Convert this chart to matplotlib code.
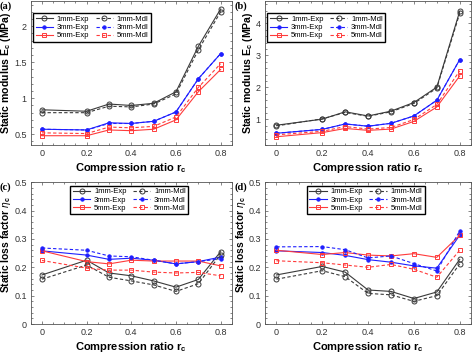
import numpy as np
import matplotlib
matplotlib.use("Agg")
import matplotlib.pyplot as plt
from matplotlib.ticker import AutoMinorLocator, MultipleLocator

plt.rcParams["font.family"] = ["Liberation Sans", "DejaVu Sans"]
plt.rcParams["mathtext.fontset"] = "custom"
plt.rcParams["mathtext.rm"] = "Liberation Sans"
plt.rcParams["mathtext.it"] = "Liberation Sans:italic"
plt.rcParams["mathtext.bf"] = "Liberation Sans:bold"
plt.rcParams["lines.dashed_pattern"] = [3.0, 2.0]

# ── data ──────────────────────────────────────────────────────────────────────
x = [0, 0.2, 0.3, 0.4, 0.5, 0.6, 0.7, 0.8]

# (a) static modulus
a_1exp = [0.84, 0.82, 0.92, 0.90, 0.93, 1.09, 1.72, 2.24]
a_1mdl = [0.80, 0.80, 0.89, 0.88, 0.92, 1.06, 1.67, 2.20]
a_3exp = [0.57, 0.56, 0.66, 0.65, 0.68, 0.81, 1.27, 1.62]
a_3mdl = [0.57, 0.56, 0.65, 0.65, 0.68, 0.81, 1.27, 1.62]
a_5exp = [0.48, 0.48, 0.56, 0.55, 0.57, 0.70, 1.09, 1.40]
a_5mdl = [0.52, 0.51, 0.60, 0.59, 0.61, 0.74, 1.15, 1.48]

# (b) static modulus
b_1exp = [0.82, 1.01, 1.24, 1.11, 1.26, 1.53, 2.01, 4.38]
b_1mdl = [0.80, 1.02, 1.22, 1.10, 1.24, 1.50, 1.98, 4.32]
b_3exp = [0.57, 0.69, 0.86, 0.79, 0.88, 1.11, 1.60, 2.87]
b_3mdl = [0.57, 0.69, 0.86, 0.79, 0.88, 1.11, 1.60, 2.87]
b_5exp = [0.46, 0.59, 0.72, 0.66, 0.70, 0.94, 1.39, 2.36]
b_5mdl = [0.52, 0.63, 0.78, 0.70, 0.75, 1.00, 1.47, 2.52]

# (c) static loss factor
c_1exp = [0.173, 0.225, 0.180, 0.170, 0.152, 0.130, 0.157, 0.255]
c_1mdl = [0.158, 0.208, 0.165, 0.152, 0.138, 0.115, 0.142, 0.245]
c_3exp = [0.258, 0.243, 0.228, 0.232, 0.225, 0.212, 0.220, 0.236]
c_3mdl = [0.268, 0.260, 0.240, 0.237, 0.225, 0.212, 0.220, 0.230]
c_5exp = [0.258, 0.220, 0.212, 0.225, 0.222, 0.222, 0.222, 0.205]
c_5mdl = [0.224, 0.197, 0.190, 0.190, 0.183, 0.180, 0.182, 0.170]

# (d) static loss factor
d_1exp = [0.173, 0.203, 0.183, 0.120, 0.115, 0.090, 0.113, 0.228]
d_1mdl = [0.158, 0.188, 0.167, 0.108, 0.103, 0.080, 0.100, 0.212]
d_3exp = [0.258, 0.252, 0.242, 0.227, 0.218, 0.205, 0.197, 0.313]
d_3mdl = [0.272, 0.273, 0.262, 0.233, 0.240, 0.213, 0.187, 0.328]
d_5exp = [0.260, 0.245, 0.252, 0.243, 0.240, 0.248, 0.235, 0.313]
d_5mdl = [0.223, 0.216, 0.208, 0.200, 0.210, 0.193, 0.165, 0.260]

panels = [
    ("(a)", [a_1exp, a_3exp, a_5exp, a_1mdl, a_3mdl, a_5mdl], (0.35, 2.35), 0.5,
     r"Static modulus E$_\mathbf{c}$ (MPa)", "upper left", (0.012, 0.915)),
    ("(b)", [b_1exp, b_3exp, b_5exp, b_1mdl, b_3mdl, b_5mdl], (0.2, 4.7), 1,
     r"Static modulus E$_\mathbf{c}$ (MPa)", "upper left", (0.012, 0.915)),
    ("(c)", [c_1exp, c_3exp, c_5exp, c_1mdl, c_3mdl, c_5mdl], (0, 0.5), 0.1,
     r"Static loss factor $\eta_\mathbf{c}$", "upper center", (0.49, 0.975)),
    ("(d)", [d_1exp, d_3exp, d_5exp, d_1mdl, d_3mdl, d_5mdl], (0, 0.5), 0.1,
     r"Static loss factor $\eta_\mathbf{c}$", "upper center", (0.49, 0.975)),
]

labels = ["1mm-Exp", "3mm-Exp", "5mm-Exp", "1mm-Mdl", "3mm-Mdl", "5mm-Mdl"]
styles = [
    dict(color="#3a3a3a", marker="o", mfc="none", ms=3.6, ls="-"),
    dict(color="#1f1fff", marker="o", mfc="#1f1fff", ms=2.4, ls="-"),
    dict(color="#ff3b3b", marker="s", mfc="none", ms=3.2, ls="-"),
    dict(color="#3a3a3a", marker="o", mfc="none", ms=3.6, ls="--"),
    dict(color="#1f1fff", marker="o", mfc="#1f1fff", ms=2.4, ls="--"),
    dict(color="#ff3b3b", marker="s", mfc="none", ms=3.2, ls="--"),
]

boxes = [
    [0.065, 0.589, 0.424, 0.408],
    [0.559, 0.589, 0.435, 0.408],
    [0.065, 0.082, 0.424, 0.402],
    [0.559, 0.082, 0.435, 0.402],
]

fig = plt.figure(figsize=(4.74, 3.53), dpi=100)

for (tag, series, ylim, ystep, ylabel, loc, anchor), box in zip(panels, boxes):
    ax = fig.add_axes(box)
    for y, lab, st in zip(series, labels, styles):
        ax.plot(x, y, lw=0.8, mew=0.7, label=lab, **st)
    ax.set_xlim(-0.05, 0.85)
    ax.set_ylim(*ylim)
    ax.xaxis.set_major_locator(MultipleLocator(0.2))
    ax.yaxis.set_major_locator(MultipleLocator(ystep))
    ax.xaxis.set_minor_locator(AutoMinorLocator(4))
    ax.yaxis.set_minor_locator(AutoMinorLocator(5))
    ax.tick_params(which="both", direction="in", top=True, right=True,
                   labelsize=6.5, width=0.5, colors="#555555", labelcolor="#333333", pad=3)
    ax.tick_params(which="major", length=2.5)
    ax.tick_params(which="minor", length=1.3)
    ax.xaxis.set_major_formatter(plt.FuncFormatter(lambda v, p: f"{v:g}"))
    ax.yaxis.set_major_formatter(plt.FuncFormatter(lambda v, p: f"{v:g}"))
    for s in ax.spines.values():
        s.set_linewidth(0.6)
        s.set_color("#555555")
    ax.set_xlabel(r"Compression ratio r$_\mathbf{c}$", fontsize=8,
                  fontweight="bold", labelpad=2)
    if "loss" in ylabel:
        ax.set_ylabel(ylabel, fontsize=7.4, fontweight="bold", labelpad=0.5, y=0.56)
    else:
        ax.set_ylabel(ylabel, fontsize=7.6, fontweight="bold", labelpad=0.5)
    ax.legend(loc=loc, bbox_to_anchor=anchor, borderaxespad=0, ncol=2,
              fontsize=5.5, handlelength=2.3, columnspacing=0.8,
              handletextpad=0.5, labelspacing=0.12, borderpad=0.3,
              fancybox=False, edgecolor="black", framealpha=1)
    ax.text(-0.155 if box[0] < 0.5 else -0.148, 1.0, tag,
            transform=ax.transAxes, fontsize=7.5, fontweight="bold",
            family=["Liberation Serif", "DejaVu Serif"], ha="left", va="top")

fig.savefig("out.png", dpi=100)
